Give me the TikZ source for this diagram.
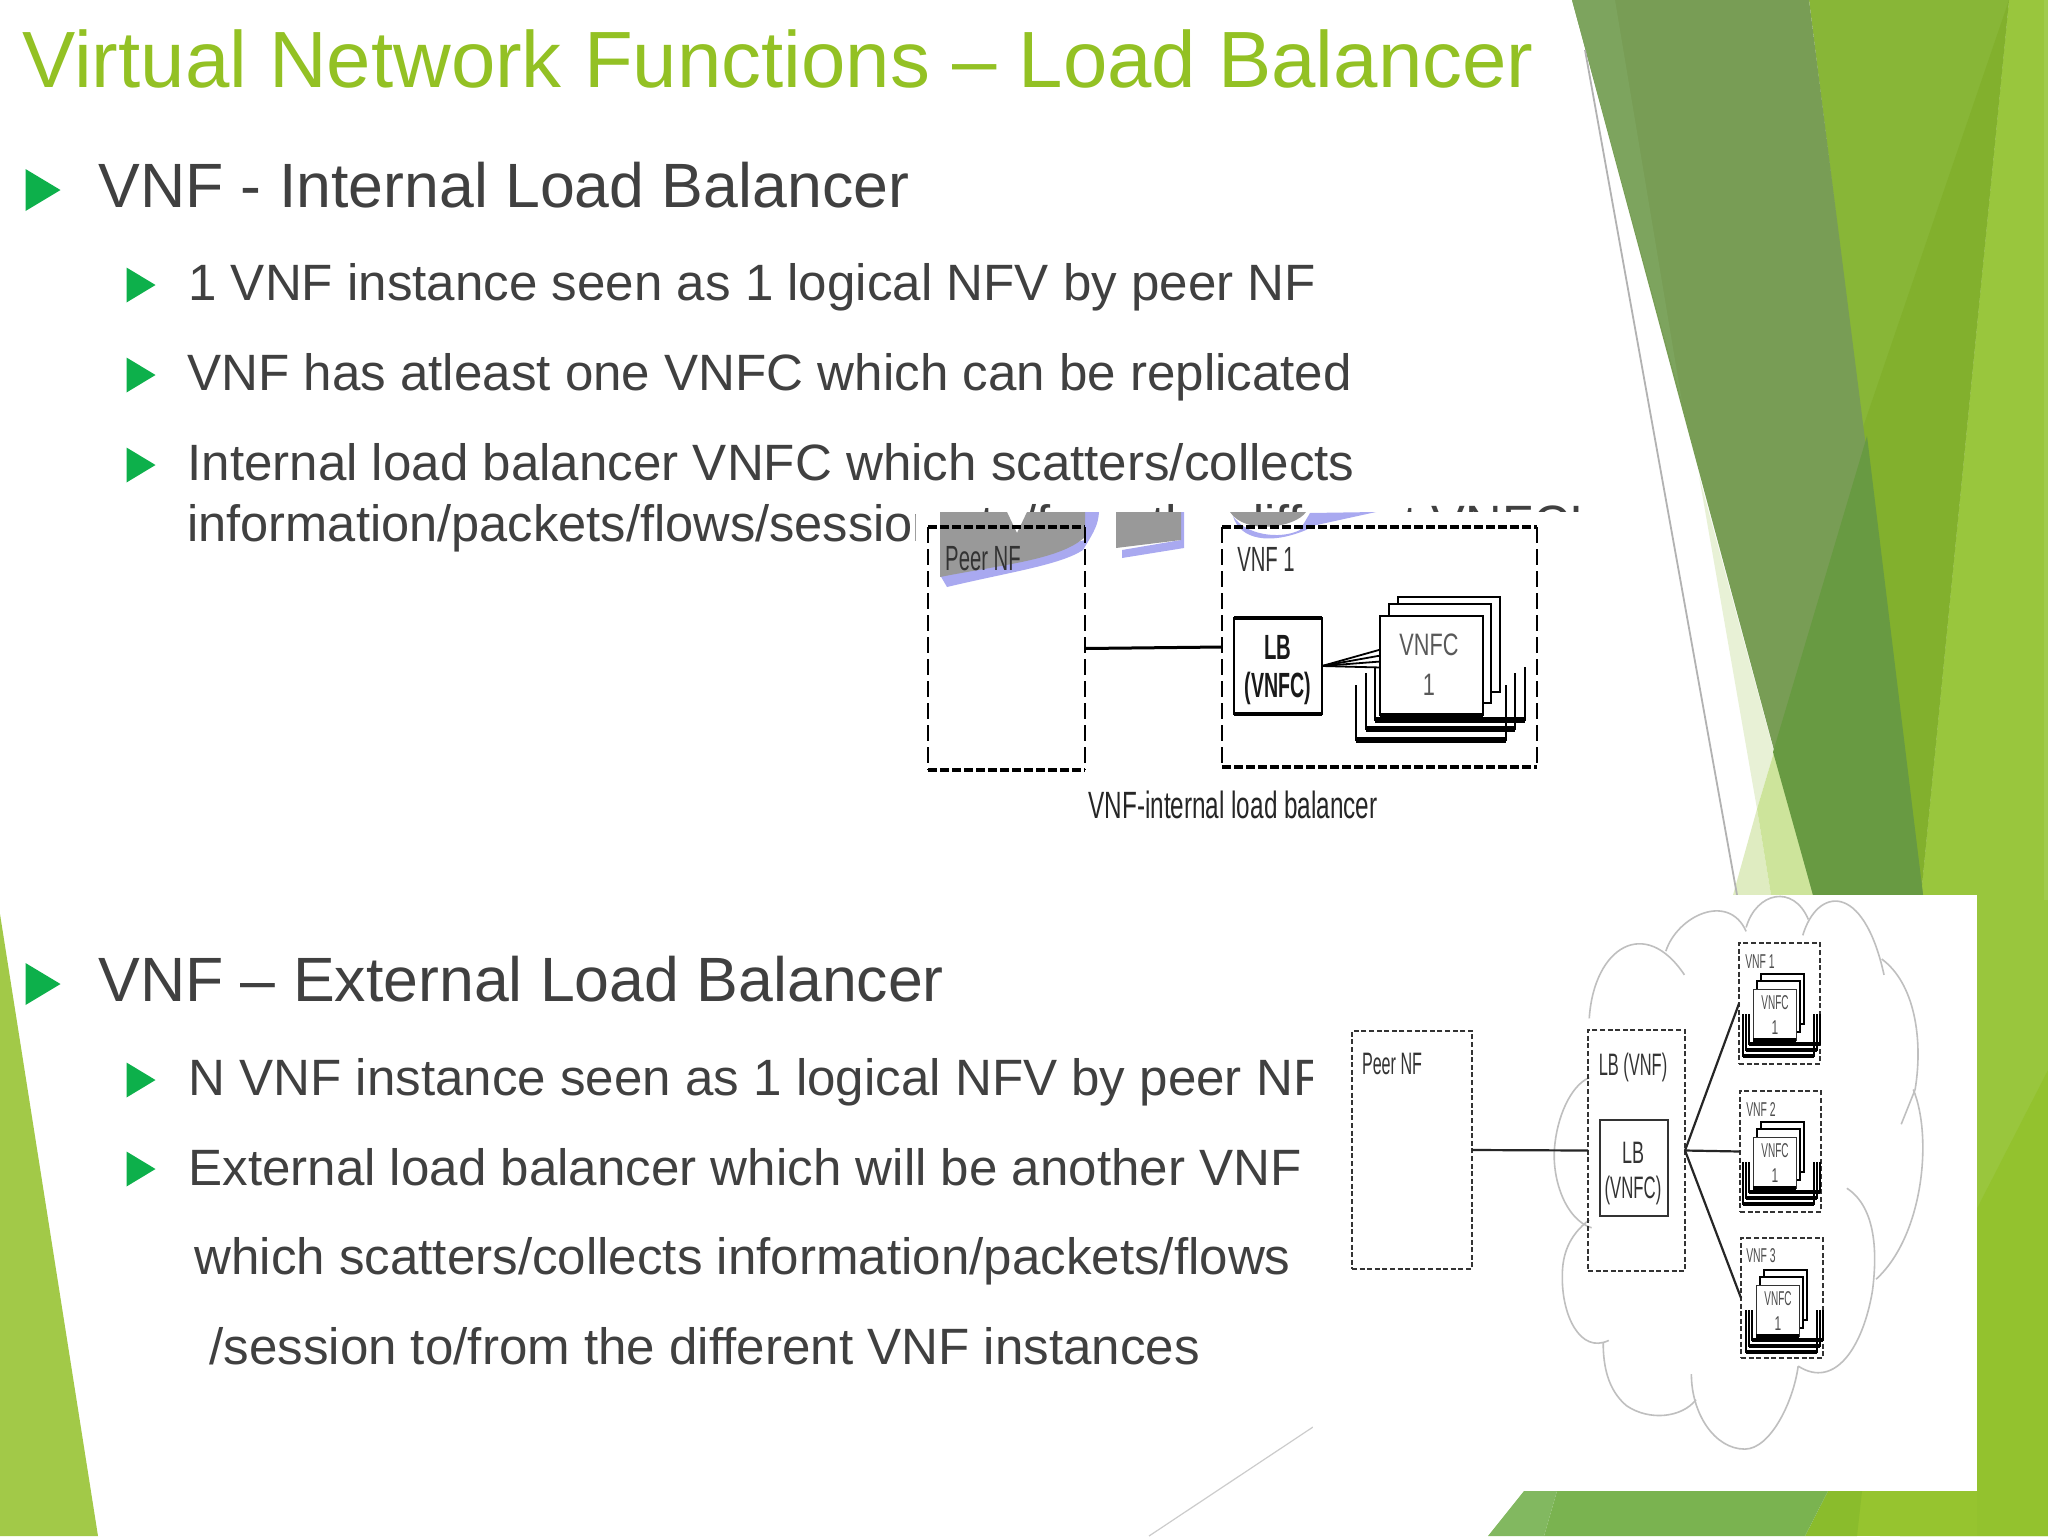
\documentclass[tikz,border=0pt]{standalone}
\usepackage{fontspec}
\setmainfont{Liberation Sans}
\usetikzlibrary{calc}
\definecolor{txt}{HTML}{404040}
\definecolor{ttl}{HTML}{93C124}
\definecolor{bul}{HTML}{0DB04B}
\newcommand\boxnode[6]{%
  \pgfmathsetmacro\bw{(#4-#2)*0.5}\pgfmathsetmacro\bh{(#5-#3)*0.5}%
  \pgfmathsetmacro\cx{(#2+#4)/2}\pgfmathsetmacro\cy{(#3+#5)/2}%
  \node[#6,minimum width=\bw pt,minimum height=\bh pt,inner sep=0pt,outer sep=0pt] (#1) at (\cx,\cy) {};}
\newcommand\narrow[2]{\scalebox{#1}[1]{#2}}
\tikzset{
  HTML/.code={\definecolor{tmpc}{HTML}{#1}\tikzset{fill=tmpc}},
  title/.style={anchor=base west,inner sep=0pt,text=ttl,font=\fontsize{39.9}{44}\selectfont},
  head/.style={anchor=base west,inner sep=0pt,text=txt,font=\fontsize{31.3}{36}\selectfont},
  sub/.style={anchor=base west,inner sep=0pt,text=txt,font=\fontsize{25.55}{30}\selectfont},
  hdash/.style={draw=black,line width=1.7pt,dash pattern=on 4.5pt off 1.5pt},
  vdash/.style={draw=black,line width=1.2pt,dash pattern=on 8pt off 3pt},
  dboxs/.style={draw=black!80,line width=1pt,dash pattern=on 2.5pt off 1.3pt},
  wire/.style={draw=black,line width=1.5pt},
  wires/.style={draw=black!85,line width=1.1pt},
  sbox/.style={draw=black,fill=white,line width=.8pt},
  lab/.style={inner sep=0pt,text=black!80,font=\fontsize{15.5}{17}\selectfont},
  labA/.style={inner sep=0pt,text=black!80,font=\fontsize{17.5}{19}\selectfont},
  labs/.style={inner sep=0pt,text=black!70,font=\fontsize{10}{11}\selectfont},
  cloudln/.style={draw=black!25,line width=.8pt},
  stack/.pic={
    \foreach \dx/\by in {-10/67,-7/61,-4/55}{
      \pgfmathsetmacro\rx{71+\dx}
      \draw[line width=1pt,black] (\dx,25) -- (\dx,\by) -- (\rx,\by) -- (\rx,25);
      \draw[line width=1.9pt,black] (\dx,\by) -- (\rx,\by);
    }
    \draw[sbox] (8,-15) rectangle (51,35);
    \draw[sbox] (4,-8) rectangle (47,43);
    \node[sbox,draw=black!80,minimum width=21.5pt,minimum height=25.5pt,inner sep=0pt,anchor=north west,line width=.7pt] (-front) at (0,0) {};
    \draw[line width=1.6pt,black] (0,51) -- (43,51);
    \node[labs] (-t1) at (22,14) {\narrow{.5}{VNFC}};
    \node[labs] (-t2) at (22,39) {\narrow{.6}{1}};
  },
  bigb/.pic={\fill[bul] (-17.5,-21) -- (17.5,0) -- (-17.5,21) -- cycle;},
  smallb/.pic={\fill[bul] (-14.5,-17.5) -- (14.5,0) -- (-14.5,17.5) -- cycle;}
}
\begin{document}
\begin{tikzpicture}[x=0.5pt,y=-0.5pt]
\useasboundingbox (0,0) rectangle (2048,1536);
\fill[white] (0,0) rectangle (2048,1536);
% ---------- background shapes
\fill[HTML=A2C948] (0,914) -- (98,1536) -- (0,1536) -- cycle;
\fill[HTML=99C63D] (2009,0) -- (2048,0) -- (2048,1536) -- (1880,1536) -- (1921,895) -- cycle;
\fill[HTML=A0CB4D] (2044,0) rectangle (2048,900);
\fill[HTML=93C22E] (2048,1070) -- (2048,1536) -- (1900,1536) -- (1930,1300) -- cycle;
\fill[HTML=88B637] (1809,0) -- (2009,0) -- (1921,895) -- cycle;
\fill[HTML=82B02D] (1860,436) -- (2009,0) -- (1921,895) -- cycle;
\fill[HTML=E8F1D6] (1699,476) -- (1774,752) -- (1757,809) -- cycle;
\fill[HTML=DFECC1] (1757,809) -- (1733,895) -- (1771,895) -- cycle;
\fill[HTML=CDE49B] (1774,752) -- (1757,809) -- (1771,895) -- (1813,895) -- cycle;
\fill[HTML=789D55] (1572,0) -- (1809,0) -- (1923,895) -- (1813,895) -- cycle;
\fill[HTML=7DA45E] (1572,0) -- (1615,0) -- (1682,402) -- cycle;
\fill[HTML=689A42] (1867,436) -- (1923,895) -- (1813,895) -- (1773,752) -- cycle;
\coordinate (lnA) at (1585,50); \coordinate (lnB) at (1737,895);
\draw[black!30,line width=.9pt] (lnA) -- (lnB);
\coordinate (lnC) at (1149,1536); \coordinate (lnD) at (1313,1427);
\draw[black!20,line width=.6pt] (lnC) -- (lnD);
\fill[HTML=96C42F] (1850,1536) -- (1850,1491) -- (1977,1491) -- (1977,1536) -- cycle;
\fill[HTML=8ABC2C] (1805,1536) -- (1828,1491) -- (1862,1491) -- (1857,1536) -- cycle;
\fill[HTML=7AB350] (1544,1536) -- (1557,1491) -- (1828,1491) -- (1805,1536) -- cycle;
\fill[HTML=82B860] (1488,1536) -- (1524,1491) -- (1557,1491) -- (1544,1536) -- cycle;
% ---------- text
\node[title] (t0) at (22,88) {Virtual Network Functions – Load Balancer};
\pic at (43,190) {bigb};
\node[head] (h1) at (98,207) {VNF - Internal Load Balancer};
\pic at (141,285) {smallb};
\node[sub] (s1) at (188,300) {1 VNF instance seen as 1 logical NFV by peer NF};
\pic at (141,375) {smallb};
\node[sub] (s2) at (187,390) {VNF has atleast one VNFC which can be replicated};
\pic at (141,465) {smallb};
\node[sub] (s3) at (187,480) {Internal load balancer VNFC which scatters/collects};
\node[sub] (s4) at (187,541) {\narrow{.99}{information/packets/flows/sessions to/from the different VNFCI}};
\pic at (43,984) {bigb};
\node[head] (h2) at (98,1001) {VNF – External Load Balancer};
\pic at (141,1080) {smallb};
\node[sub] (s5) at (188,1095) {N VNF instance seen as 1 logical NFV by peer NF};
\pic at (141,1169) {smallb};
\node[sub] (s6) at (188,1185) {External load balancer which will be another VNF};
\node[sub] (s7) at (194,1274) {which scatters/collects information/packets/flows};
\node[sub] (s8) at (209,1364) {/session to/from the different VNF instances};
% ---------- picture 1
\fill[white] (916,512) rectangle (1600,840);
\fill[white] (916,500) rectangle (926,512);
\fill[HTML=A9A9F0] (947,587) .. controls (1010,572) and (1060,565) .. (1083,550) .. controls (1095,530) and (1098,525) .. (1099,512) -- (1085,512) -- (1085,540) -- (940,575) -- cycle;
\fill[HTML=999999] (940,512) -- (1007,512) -- (1017,533) -- (1027,512) -- (1085,512) -- (1085,537) .. controls (1060,560) and (1000,565) .. (940,577) -- cycle;
\fill[HTML=A9A9F0] (1122,558) -- (1184,548) -- (1184,512) -- (1181,512) -- (1181,540) -- (1122,550) -- cycle;
\fill[HTML=999999] (1116,512) -- (1181,512) -- (1181,540) -- (1116,548) -- cycle;
\fill[HTML=A9A9F0] (1233,516) .. controls (1245,535) and (1280,540) .. (1300,530) -- (1310,513) -- (1376,512) -- (1312,526) -- (1306,530) .. controls (1270,545) and (1240,540) .. (1233,516) -- cycle;
\fill[HTML=999999] (1230,512) -- (1306,512) .. controls (1295,528) and (1245,535) .. (1230,512) -- cycle;
\boxnode{peerA}{928}{527}{1085}{770}{}
\boxnode{vnfA}{1222}{527}{1537}{767}{}
\draw[hdash] (peerA.north west) -- (peerA.north east);
\draw[hdash] (peerA.south west) -- (peerA.south east);
\draw[vdash] (peerA.north west) -- (peerA.south west);
\draw[vdash] (peerA.north east) -- (peerA.south east);
\draw[hdash] (vnfA.north west) -- (vnfA.north east);
\draw[hdash] (vnfA.south west) -- (vnfA.south east);
\draw[vdash] (vnfA.north west) -- (vnfA.south west);
\draw[vdash] (vnfA.north east) -- (vnfA.south east);
\boxnode{lbA}{1234}{618}{1322}{714}{draw=black,line width=1pt,fill=white}
\draw[black,line width=2.4pt] (lbA.north west) -- (lbA.north east);
\draw[black,line width=2.4pt] (lbA.south west) -- (lbA.south east);
\foreach \lx/\rx/\ty/\by in {1356/1506/685/740,1366/1515/673/729,1375/1525/667/720}{
  \draw[black,line width=1.3pt] (\lx,\ty) -- (\lx,\by) -- (\rx,\by) -- (\rx,\ty);
  \draw[black,line width=2.6pt] (\lx,\by) -- (\rx,\by);
}
\draw[sbox,line width=1.3pt] (1398,597) rectangle (1500,692);
\draw[sbox,line width=1.3pt] (1389,604) rectangle (1491,703);
\boxnode{vnfcA}{1380}{616}{1483}{715}{draw=black,fill=white,line width=1pt}
\draw[black,line width=2.4pt] (vnfcA.south west) -- (vnfcA.south east);
\draw[wire] (peerA.east) -- (vnfA.west);
\foreach \fr in {.34,.40,.46,.52}
  \draw[black,line width=.9pt] (lbA.east) -- ($(vnfcA.north west)!\fr!(vnfcA.south west)$);
\node[labA] (tA1) at (983,559) {\narrow{.58}{Peer NF}};
\node[labA] (tA2) at (1266,559) {\narrow{.58}{VNF 1}};
\node[labA,text=black!90,font=\fontsize{17.5}{19}\bfseries\selectfont] (tA3) at (1278,647) {\narrow{.58}{LB}};
\node[labA,text=black!90,font=\fontsize{17.5}{19}\bfseries\selectfont] (tA4) at (1278,688) {\narrow{.56}{(VNFC)}};
\node[lab,text=black!65] (tA5) at (1429,645) {\narrow{.7}{VNFC}};
\node[lab,text=black!65] (tA6) at (1429,685) {\narrow{.7}{1}};
\node[labA,text=black!85,font=\fontsize{19}{21}\selectfont] (tA7) at (1233,805) {\narrow{.64}{VNF-internal load balancer}};
% ---------- picture 2
\fill[white] (1313,895) rectangle (1977,1491);
\begin{scope}[shift={(1320,880)},x=0.2321pt,y=-0.1976pt]
\draw[cloudln] (580,350) .. controls (590,170) and (700,90) .. (785,240);
\draw[cloudln] (745,180) .. controls (770,90) and (880,30) .. (918,130);
\draw[cloudln] (918,120) .. controls (940,30) and (1020,10) .. (1052,100);
\draw[cloudln] (1040,140) .. controls (1070,20) and (1170,0) .. (1215,240);
\draw[cloudln] (1210,200) .. controls (1280,260) and (1300,400) .. (1282,530) -- (1252,618);
\draw[cloudln] (1278,530) .. controls (1320,650) and (1300,900) .. (1198,1010);
\draw[cloudln] (1135,780) .. controls (1200,830) and (1200,950) .. (1190,1040) .. controls (1170,1180) and (1110,1290) .. (1030,1230);
\draw[cloudln] (1030,1230) .. controls (1020,1320) and (970,1440) .. (915,1440) .. controls (850,1440) and (800,1350) .. (800,1250);
\draw[cloudln] (810,1315) .. controls (780,1360) and (710,1370) .. (660,1330) .. controls (620,1290) and (610,1230) .. (610,1170);
\draw[cloudln] (622,1165) .. controls (560,1200) and (520,1100) .. (522,1000) .. controls (522,950) and (535,900) .. (580,860);
\draw[cloudln] (585,880) .. controls (530,860) and (500,760) .. (505,680) .. controls (510,600) and (540,520) .. (580,500);
\end{scope}
\boxnode{peerB}{1352}{1031}{1472}{1269}{dboxs}
\boxnode{lbvB}{1588}{1030}{1685}{1271}{dboxs}
\boxnode{lbB}{1600}{1120}{1668}{1216}{draw=black!80,line width=1.3pt}
\boxnode{v1}{1739}{943}{1820}{1064}{dboxs}
\boxnode{v2}{1740}{1091}{1821}{1212}{dboxs}
\boxnode{v3}{1741}{1238}{1823}{1358}{dboxs}
\pic (st1) at (1753,989) {stack};
\pic (st2) at (1753,1137) {stack};
\pic (st3) at (1756,1285) {stack};
\draw[wires] (peerB.east) -- (lbvB.west);
\draw[wires] (lbvB.east) -- (v1.west);
\draw[wires] (lbvB.east) -- (v2.west);
\draw[wires] (lbvB.east) -- (v3.west);
\node[lab] (tB1) at (1392,1064) {\narrow{.52}{Peer NF}};
\node[lab] (tB2) at (1633,1067) {\narrow{.53}{LB (VNF)}};
\node[lab] (tB3) at (1633,1153) {\narrow{.58}{LB}};
\node[lab] (tB4) at (1633,1190) {\narrow{.54}{(VNFC)}};
\node[labs] (tB5) at (1760,962) {\narrow{.52}{VNF 1}};
\node[labs] (tB6) at (1761,1109) {\narrow{.52}{VNF 2}};
\node[labs] (tB7) at (1761,1256) {\narrow{.52}{VNF 3}};
\end{tikzpicture}
\end{document}
